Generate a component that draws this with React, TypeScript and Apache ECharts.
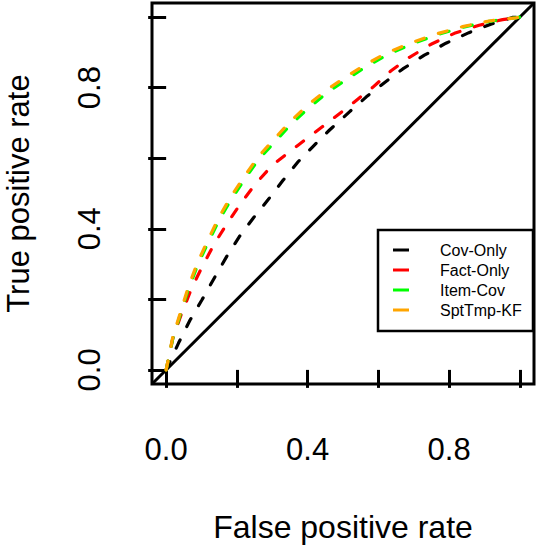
import React, { useEffect, useRef } from "react";
import * as echarts from "echarts";

const seriesNames = ["Cov-Only", "Fact-Only", "Item-Cov", "SptTmp-KF"];
const seriesColors = ["#000000", "#ff0000", "#00ff00", "#ffa500"];

const covOnlyX = [0, 0.035, 0.068, 0.101, 0.133, 0.171, 0.207, 0.246, 0.288, 0.331, 0.373, 0.415, 0.462, 0.519, 0.566, 0.617, 0.669, 0.73, 0.791, 0.856, 0.918, 0.979, 1];
const covOnlyY = [0, 0.076, 0.142, 0.198, 0.255, 0.321, 0.378, 0.43, 0.482, 0.538, 0.59, 0.633, 0.68, 0.732, 0.774, 0.814, 0.853, 0.892, 0.926, 0.956, 0.98, 0.999, 1];

const factOnlyX = [0, 0.019, 0.044, 0.072, 0.103, 0.136, 0.173, 0.211, 0.254, 0.301, 0.373, 0.448, 0.514, 0.584, 0.636, 0.688, 0.749, 0.815, 0.885, 0.951, 1];
const factOnlyY = [0, 0.09, 0.161, 0.231, 0.295, 0.357, 0.416, 0.472, 0.529, 0.581, 0.637, 0.694, 0.745, 0.801, 0.848, 0.886, 0.923, 0.954, 0.977, 0.993, 1];

const itemCovX = [0, 0.019, 0.041, 0.063, 0.089, 0.118, 0.15, 0.183, 0.221, 0.26, 0.307, 0.35, 0.401, 0.453, 0.509, 0.566, 0.627, 0.693, 0.763, 0.838, 0.913, 0.989, 1];
const itemCovY = [0, 0.09, 0.16, 0.229, 0.297, 0.36, 0.425, 0.482, 0.539, 0.595, 0.646, 0.693, 0.741, 0.784, 0.823, 0.86, 0.894, 0.923, 0.949, 0.971, 0.988, 0.998, 1];

const sptTmpX = [0, 0.019, 0.041, 0.063, 0.089, 0.118, 0.15, 0.183, 0.221, 0.26, 0.307, 0.35, 0.401, 0.453, 0.509, 0.566, 0.627, 0.693, 0.763, 0.838, 0.913, 0.989, 1];
const sptTmpY = [0, 0.094, 0.165, 0.236, 0.305, 0.368, 0.434, 0.491, 0.548, 0.604, 0.656, 0.703, 0.751, 0.793, 0.831, 0.867, 0.9, 0.927, 0.952, 0.973, 0.989, 0.998, 1];

const diagonalX = [-0.04, 1.04];
const diagonalY = [-0.04, 1.04];

const tickValues = [0, 0.2, 0.4, 0.6, 0.8, 1];
const tickLabelValues = [0, 0.4, 0.8];
const axisMin = -0.04;
const axisMax = 1.04;

const xTitle = "False positive rate";
const yTitle = "True positive rate";

const zip = (xs: number[], ys: number[]) => xs.map((x, i) => [x, ys[i]]);

export default function App() {
  const ref = useRef<HTMLDivElement>(null);
  useEffect(() => {
    document.body.style.margin = "0";
    if (!ref.current) return;
    const chart = echarts.init(ref.current, undefined, { renderer: "svg" });
    const curves = [
      zip(covOnlyX, covOnlyY),
      zip(factOnlyX, factOnlyY),
      zip(itemCovX, itemCovY),
      zip(sptTmpX, sptTmpY),
    ];
    const font = "Liberation Sans";
    chart.setOption({
      animation: false,
      textStyle: { fontFamily: font, color: "#000" },
      grid: {
        left: 152,
        top: 3,
        right: 4,
        bottom: 161,
        show: true,
        containLabel: false,
        outerBoundsMode: "none",
        borderColor: "#000",
        borderWidth: 3,
        backgroundColor: "transparent",
      },
      xAxis: {
        type: "value",
        min: axisMin,
        max: axisMax,
        offset: 4,
        axisLine: { show: false },
        splitLine: { show: false },
        axisTick: {
          show: true,
          length: 18,
          customValues: tickValues,
          lineStyle: { color: "#000", width: 3 },
        },
        axisLabel: {
          customValues: tickLabelValues,
          formatter: (v: number) => v.toFixed(1),
          fontSize: 31,
          color: "#000",
          fontFamily: font,
          margin: 46,
        },
        name: xTitle,
        nameLocation: "middle",
        nameGap: 123,
        nameTextStyle: { fontSize: 32, color: "#000", fontFamily: font },
      },
      yAxis: {
        type: "value",
        min: axisMin,
        max: axisMax,
        offset: 2,
        axisLine: { show: false },
        splitLine: { show: false },
        axisTick: {
          show: true,
          length: 18,
          customValues: tickValues,
          lineStyle: { color: "#000", width: 3 },
        },
        axisLabel: {
          customValues: tickLabelValues,
          formatter: (v: number) => v.toFixed(1),
          fontSize: 31,
          color: "#000",
          fontFamily: font,
          rotate: 90,
          margin: 45,
        },
        name: yTitle,
        nameLocation: "middle",
        nameGap: 116,
        nameRotate: 90,
        nameTextStyle: { fontSize: 31, color: "#000", fontFamily: font },
      },
      legend: {
        data: seriesNames,
        orient: "vertical",
        left: 393,
        top: 240,
        padding: 0,
        itemGap: 0,
        itemWidth: 16,
        itemHeight: 3,
        icon: "rect",
        textStyle: {
          fontSize: 16,
          lineHeight: 20,
          color: "#000",
          fontFamily: font,
          padding: [0, 0, 0, 26],
        },
      },
      graphic: [
        {
          type: "rect",
          shape: { x: 378, y: 230, width: 155, height: 101 },
          style: { fill: "none", stroke: "#000", lineWidth: 2.5 },
          z: 10,
        },
      ],
      series: [
        {
          type: "line",
          name: "diagonal",
          data: zip(diagonalX, diagonalY),
          showSymbol: false,
          lineStyle: { color: "#000", width: 3, type: "solid" },
          silent: true,
        },
        ...seriesNames.map((name, i) => ({
          type: "line",
          name,
          data: curves[i],
          showSymbol: false,
          symbol: "none",
          itemStyle: { color: seriesColors[i] },
          lineStyle: {
            color: seriesColors[i],
            width: 3.2,
            type: [9, 15],
            cap: "round",
          },
          z: 3 + i,
        })),
      ],
    });
    return () => chart.dispose();
  }, []);
  return <div ref={ref} style={{ width: 538, height: 545 }} />;
}
